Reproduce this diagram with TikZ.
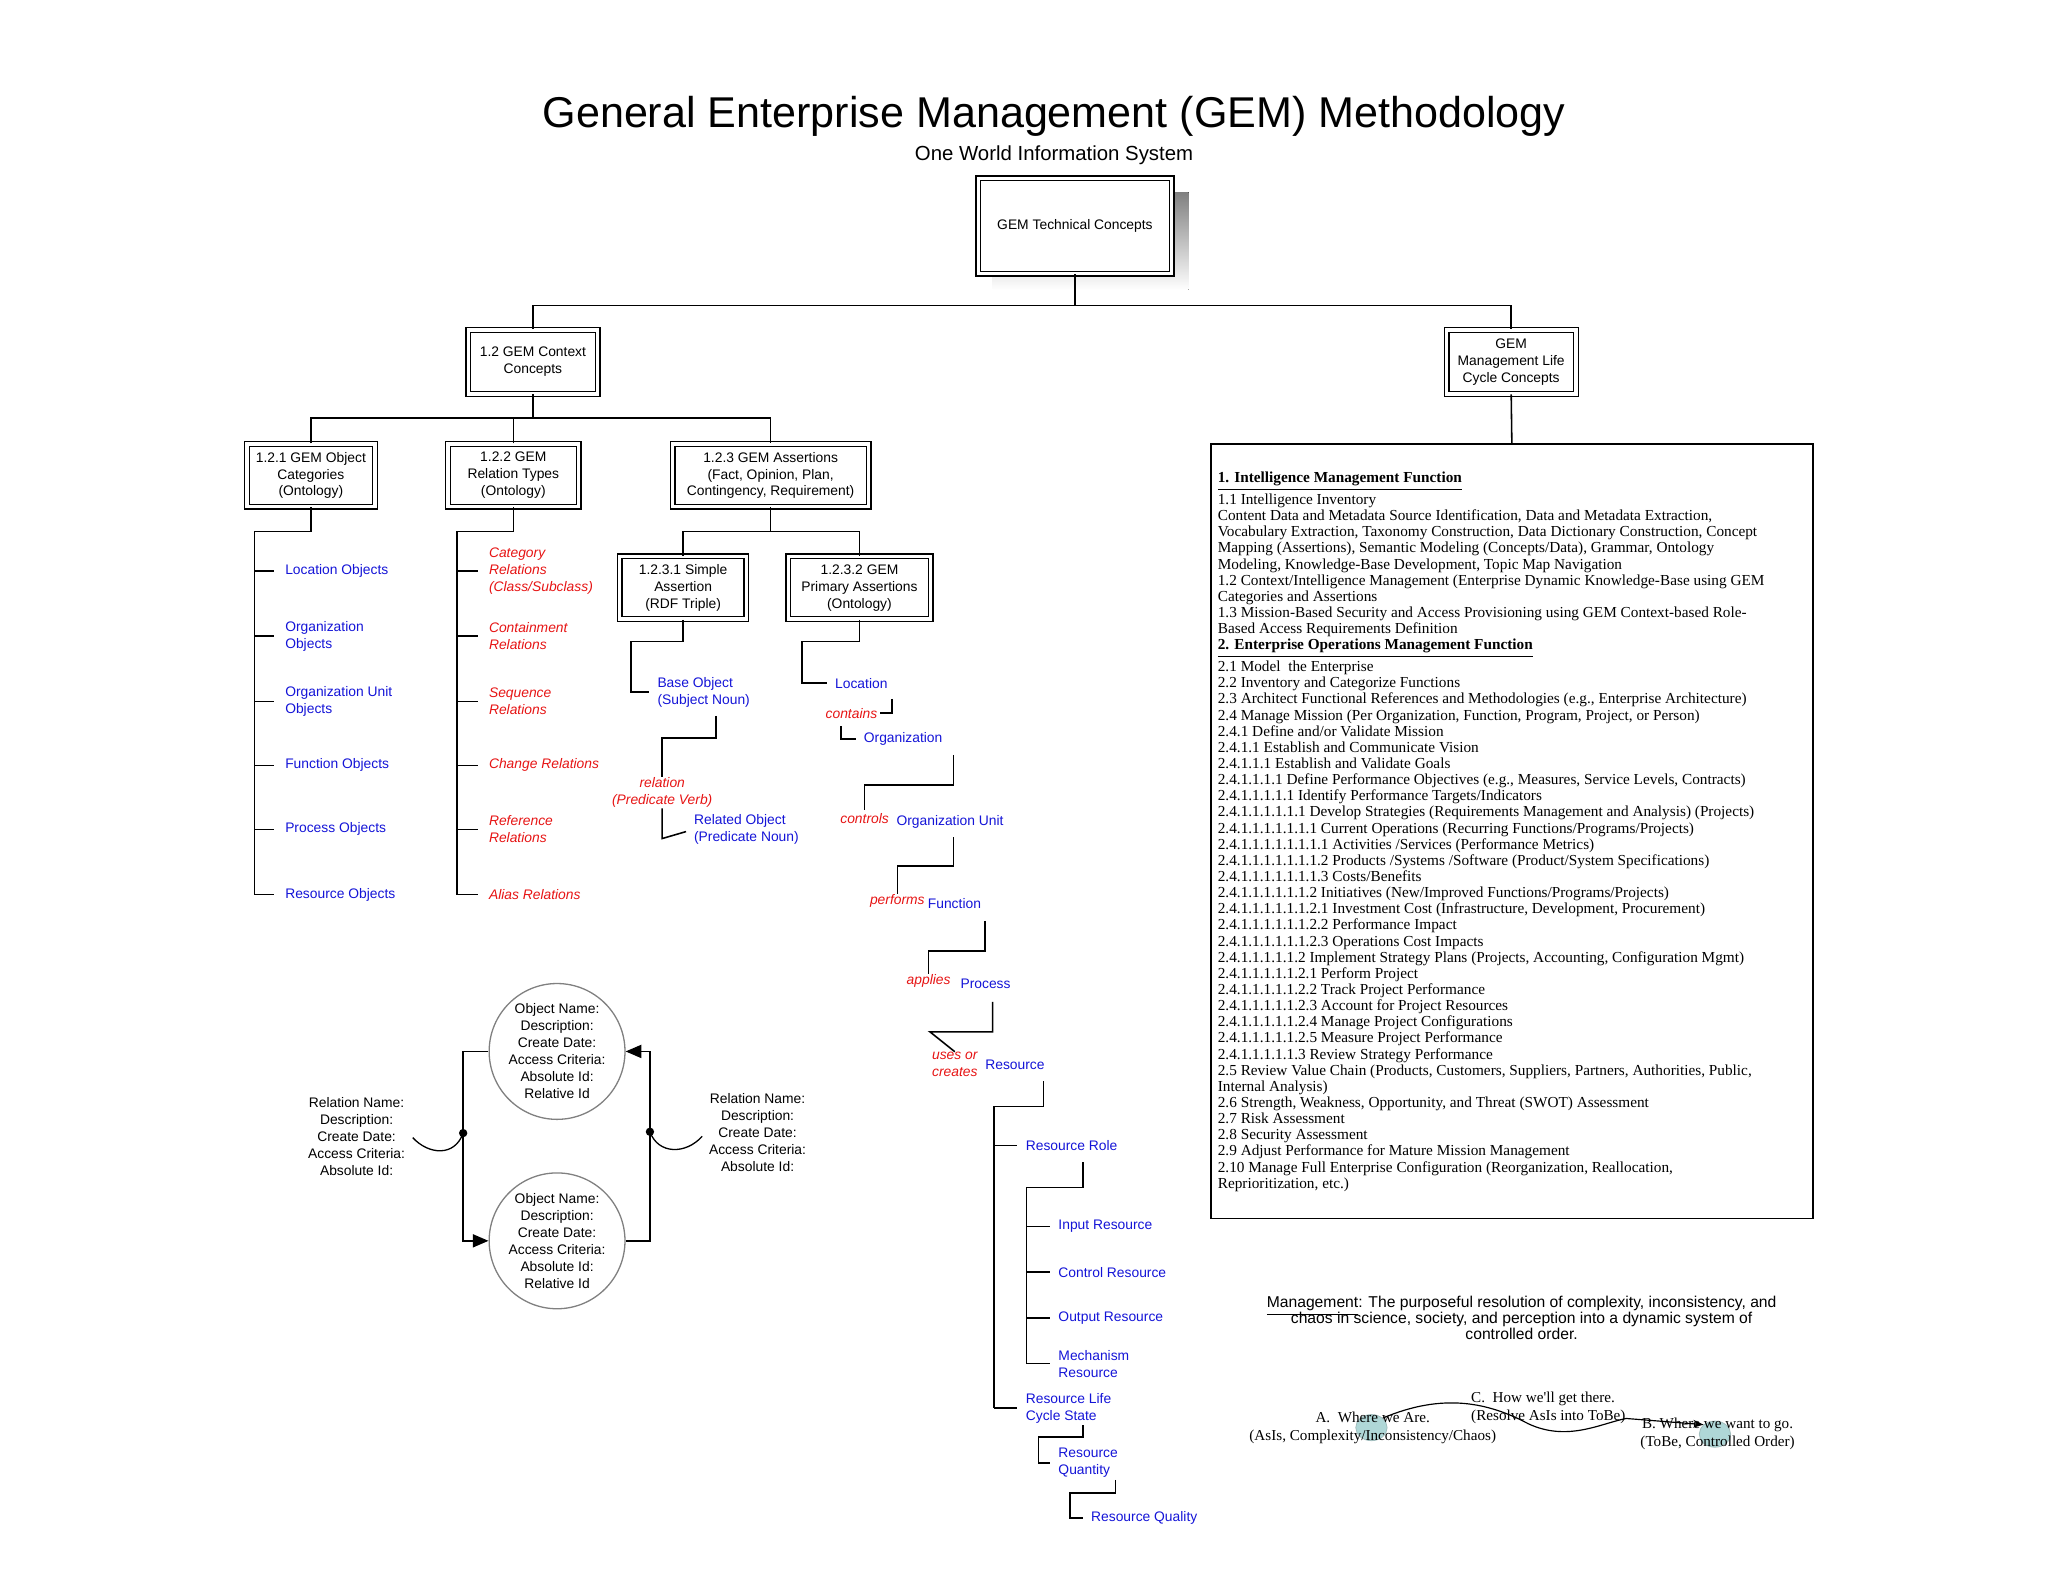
\documentclass[tikz,border=0pt]{standalone}
\usepackage{fontspec}
\setmainfont{Liberation Sans}
\newfontfamily\serifface{Liberation Serif}
\usetikzlibrary{arrows.meta,shapes.geometric}
\definecolor{lblue}{RGB}{20,20,215}
\definecolor{lred}{RGB}{230,20,20}
\definecolor{shade}{RGB}{205,205,205}
\definecolor{lteal}{RGB}{175,215,215}
\newcommand\tfs{\fontsize{5.3}{6.5}\selectfont}
\tikzset{
  gbox/.style={draw,double,double distance=1.3pt,line width=0.5pt,fill=white,align=center,inner sep=0pt,font=\tfs},
  bl/.style={text=lblue,align=left,anchor=west,inner sep=0pt,font=\tfs},
  rd/.style={text=lred,align=left,anchor=west,inner sep=0pt,font=\tfs\itshape},
  wire/.style={line width=0.6pt},
  gap/.style={shorten >=3pt},
  obj/.style={circle,draw=gray,line width=0.5pt,minimum size=52pt,inner sep=0pt,align=center,font=\tfs},
  rel/.style={align=center,inner sep=0pt,font=\tfs},
  blob/.style={ellipse,fill=lteal,draw=lteal!70!gray,line width=0.3pt,minimum width=12pt,minimum height=10pt,inner sep=0pt},
}
\begin{document}
\begin{tikzpicture}[x=0.5pt,y=-0.5pt]
\useasboundingbox (0,0) rectangle (1568,1211);
\node[font=\fontsize{16.5}{18}\selectfont] (title) at (807,89) {General Enterprise Management (GEM) Methodology};
\node[font=\fontsize{7.8}{9}\selectfont] (sub) at (807,118.5) {One World Information System};
% top box with shadow
\fill[shade] (760,147) rectangle (910,222);
\node[gbox,minimum width=74pt,minimum height=36.5pt] (tech) at (823,173) {GEM Technical Concepts};
\node[gbox,minimum width=49.5pt,minimum height=24.5pt] (ctx) at (408,277) {1.2 GEM Context\\Concepts};
\node[gbox,minimum width=49.5pt,minimum height=24.5pt] (mlc) at (1157,277) {GEM\\Management Life\\Cycle Concepts};
\coordinate (t1) at (823,234);
\draw[wire] (tech.south) -- (t1);
\draw[wire] (ctx.north) |- (t1) -| (mlc.north);
% big text box
\node[draw,line width=0.6pt,minimum width=230.5pt,minimum height=296.5pt,inner sep=0pt] (bigbox) at (1157.5,636.5) {};
\draw[wire] (mlc.south) -- (bigbox.north);
\node[anchor=north west,inner sep=0pt,align=left,font=\serifface\fontsize{5.85}{6.18}\selectfont] (bigtext) at (932,361) {%
\underline{\textbf{1. Intelligence Management Function}}\\
1.1 Intelligence Inventory\\
Content Data and Metadata Source Identification, Data and Metadata Extraction,\\
Vocabulary Extraction, Taxonomy Construction, Data Dictionary Construction, Concept\\
Mapping (Assertions), Semantic Modeling (Concepts/Data), Grammar, Ontology\\
Modeling, Knowledge-Base Development, Topic Map Navigation\\
1.2 Context/Intelligence Management (Enterprise Dynamic Knowledge-Base using GEM\\
Categories and Assertions\\
1.3 Mission-Based Security and Access Provisioning using GEM Context-based Role-\\
Based Access Requirements Definition\\
\underline{\textbf{2. Enterprise Operations Management Function}}\\
2.1 Model\ \ the Enterprise\\
2.2 Inventory and Categorize Functions\\
2.3 Architect Functional References and Methodologies (e.g., Enterprise Architecture)\\
2.4 Manage Mission (Per Organization, Function, Program, Project, or Person)\\
2.4.1 Define and/or Validate Mission\\
2.4.1.1 Establish and Communicate Vision\\
2.4.1.1.1 Establish and Validate Goals\\
2.4.1.1.1.1 Define Performance Objectives (e.g., Measures, Service Levels, Contracts)\\
2.4.1.1.1.1.1 Identify Performance Targets/Indicators\\
2.4.1.1.1.1.1.1 Develop Strategies (Requirements Management and Analysis) (Projects)\\
2.4.1.1.1.1.1.1.1 Current Operations (Recurring Functions/Programs/Projects)\\
2.4.1.1.1.1.1.1.1.1 Activities /Services (Performance Metrics)\\
2.4.1.1.1.1.1.1.1.2 Products /Systems /Software (Product/System Specifications)\\
2.4.1.1.1.1.1.1.1.3 Costs/Benefits\\
2.4.1.1.1.1.1.1.2 Initiatives (New/Improved Functions/Programs/Projects)\\
2.4.1.1.1.1.1.1.2.1 Investment Cost (Infrastructure, Development, Procurement)\\
2.4.1.1.1.1.1.1.2.2 Performance Impact\\
2.4.1.1.1.1.1.1.2.3 Operations Cost Impacts\\
2.4.1.1.1.1.1.2 Implement Strategy Plans (Projects, Accounting, Configuration Mgmt)\\
2.4.1.1.1.1.1.2.1 Perform Project\\
2.4.1.1.1.1.1.2.2 Track Project Performance\\
2.4.1.1.1.1.1.2.3 Account for Project Resources\\
2.4.1.1.1.1.1.2.4 Manage Project Configurations\\
2.4.1.1.1.1.1.2.5 Measure Project Performance\\
2.4.1.1.1.1.1.3 Review Strategy Performance\\
2.5 Review Value Chain (Products, Customers, Suppliers, Partners, Authorities, Public,\\
Internal Analysis)\\
2.6 Strength, Weakness, Opportunity, and Threat (SWOT) Assessment\\
2.7 Risk Assessment\\
2.8 Security Assessment\\
2.9 Adjust Performance for Mature Mission Management\\
2.10 Manage Full Enterprise Configuration (Reorganization, Reallocation,\\
Reprioritization, etc.)};
% second level
\node[gbox,minimum width=49pt,minimum height=24pt] (b121) at (238,364) {1.2.1 GEM Object\\Categories\\(Ontology)};
\node[gbox,minimum width=50pt,minimum height=24pt] (b122) at (393,364) {1.2.2 GEM\\Relation Types\\(Ontology)};
\node[gbox,minimum width=75pt,minimum height=24pt] (b123) at (590,364) {1.2.3 GEM Assertions\\(Fact, Opinion, Plan,\\Contingency, Requirement)};
\coordinate (t2) at (408,320);
\draw[wire] (ctx.south) -- (t2);
\draw[wire] (b121.north) |- (t2) -| (b123.north);
\draw[wire] (b122.north) -- (393,320);
% 1.2.1 column
\draw[wire] (b121.south) -- (238,407) -- (195,407) -- (195,685);
\foreach \y/\n/\t in {437/o1/{Location Objects},487/o2/{Organization\\Objects},537/o3/{Organization Unit\\Objects},586/o4/{Function Objects},635/o5/{Process Objects},685/o6/{Resource Objects}}{
  \node[bl] (\n) at (218,\y) {\t};
  \draw[wire] (195,\y) -- (210,\y);
}
% 1.2.2 column
\draw[wire] (b122.south) -- (393,407) -- (350,407) -- (350,685);
\foreach \y/\n/\t in {437/r1/{Category\\Relations\\(Class/Subclass)},487/r2/{Containment\\Relations},537/r3/{Sequence\\Relations},586/r4/{Change Relations},635/r5/{Reference\\Relations},685/r6/{Alias Relations}}{
  \node[rd] (\n) at (374,\y) {\t};
  \draw[wire] (350,\y) -- (366,\y);
}
% 1.2.3 sub boxes
\node[gbox,minimum width=48.5pt,minimum height=24pt] (b1231) at (523,450) {1.2.3.1 Simple\\Assertion\\(RDF Triple)};
\node[gbox,minimum width=54.5pt,minimum height=24pt] (b1232) at (658,450) {1.2.3.2 GEM\\Primary Assertions\\(Ontology)};
\coordinate (t3) at (590,407);
\draw[wire] (b123.south) -- (t3);
\draw[wire] (b1231.north) |- (t3) -| (b1232.north);
% simple assertion chain
\node[bl] (base) at (503,530) {Base Object\\(Subject Noun)};
\draw[wire,gap] (b1231.south) -- (523,491) -- (483,491) -- (483,530) -- (base.west);
\node[rd,anchor=center,align=center] (relv) at (507,607) {relation\\(Predicate Verb)};
\draw[wire] (548,548) -- (548,565) -- (507,565) -- (relv.north);
\node[bl] (relo) at (531,635) {Related Object\\(Predicate Noun)};
\draw[wire,gap] (relv.south) -- (507,642) -- (relo.west);
% primary assertions chain
\node[bl] (loc) at (639,523) {Location};
\draw[wire,gap] (b1232.south) -- (658,491) -- (614,491) -- (614,523) -- (loc.west);
\node[rd,anchor=east] (cont) at (672,546) {contains};
\draw[wire,shorten >=1pt] (683,535) -- (683,546) -- (cont.east);
\node[bl] (org) at (661,566) {Organization};
\draw[wire,gap] (644,556) -- (644,566) -- (org.west);
\node[rd] (ctrl) at (643,627) {controls};
\draw[wire] (730,578) -- (730,601) -- (662,601) -- (662,620);
\node[bl] (ou) at (686,629) {Organization Unit};
\node[rd,anchor=center] (perf) at (687,690) {performs};
\draw[wire] (730,641) -- (730,663) -- (687,663) -- (perf.north);
\node[bl] (func) at (710,692) {Function};
\node[rd,anchor=center] (appl) at (711,751) {applies};
\draw[wire] (754,705) -- (754,728) -- (711,728) -- (appl.north);
\node[bl] (proc) at (735,753) {Process};
\node[rd,anchor=center,align=center] (uses) at (731,815) {uses or\\creates};
\draw[wire] (760,767) -- (760,790) -- (712,790) -- (uses.north);
\node[bl] (res) at (754,815) {Resource};
% resource chain
\draw[wire] (799,828) -- (799,847) -- (761,847) -- (761,1078);
\node[bl] (rrole) at (785,877) {Resource Role};
\draw[wire,gap] (761,877) -- (rrole.west);
\node[bl] (rlcs) at (785,1078) {Resource Life\\Cycle State};
\draw[wire,gap] (761,1078) -- (rlcs.west);
\draw[wire] (829,890) -- (829,909) -- (786,909) -- (786,1044);
\foreach \y/\n/\t in {939/in1/{Input Resource},974/in2/{Control Resource},1009/in3/{Output Resource},1044/in4/{Mechanism\\Resource}}{
  \node[bl] (\n) at (810,\y) {\t};
  \draw[wire,gap] (786,\y) -- (\n.west);
}
\node[bl] (rq) at (810,1120) {Resource\\Quantity};
\draw[wire,gap] (829,1091) -- (829,1100) -- (795,1100) -- (795,1120) -- (rq.west);
\node[bl] (rql) at (835,1162) {Resource Quality};
\draw[wire,gap] (854,1133) -- (854,1143) -- (819,1143) -- (819,1162) -- (rql.west);
% object circles
\node[obj] (c1) at (426.5,805) {Object Name:\\Description:\\Create Date:\\Access Criteria:\\Absolute Id:\\Relative Id};
\node[obj] (c2) at (426.5,950) {Object Name:\\Description:\\Create Date:\\Access Criteria:\\Absolute Id:\\Relative Id};
\coordinate (dl) at (354.6,867.5);
\coordinate (dr) at (497.6,866.5);
\draw[wire,-{Triangle[length=6pt,width=5pt]}] (c1.west) -- (354.6,805) -- (354.6,950) -- (c2.west);
\draw[wire,-{Triangle[length=6pt,width=5pt]}] (c2.east) -- (497.6,950) -- (497.6,805) -- (c1.east);
\fill (dl) circle (1.6pt);
\fill (dr) circle (1.6pt);
\node[rel] (rl) at (273,870) {Relation Name:\\Description:\\Create Date:\\Access Criteria:\\Absolute Id:};
\node[rel] (rr) at (580,867) {Relation Name:\\Description:\\Create Date:\\Access Criteria:\\Absolute Id:};
\draw[line width=0.5pt] (316,871) .. controls (328,884) and (348,886) .. (dl);
\draw[line width=0.5pt] (dr) .. controls (504,884) and (525,884) .. (537.6,870);
% management definition
\node[align=center,inner sep=0pt,font=\fontsize{6.0}{6.25}\selectfont] (mgmt) at (1165,1009) {\smash{\underline{Management}}: The purposeful resolution of complexity, inconsistency, and\\chaos in science, society, and perception into a dynamic system of\\controlled order.};
% A B C
\node[blob] (ea) at (1050,1093) {};
\node[blob] (eb) at (1313,1098) {};
\node[align=center,inner sep=0pt,font=\serifface\fontsize{5.8}{7}\selectfont] (ta) at (1051,1093) {A.\ \ Where we Are.\\(AsIs, Complexity/Inconsistency/Chaos)};
\node[align=left,anchor=west,inner sep=0pt,font=\serifface\fontsize{5.8}{7}\selectfont] (tc) at (1126,1078) {C.\ \ How we'll get there.\\(Resolve AsIs into ToBe)};
\node[align=center,inner sep=0pt,font=\serifface\fontsize{5.8}{7}\selectfont] (tb) at (1315,1098) {B. Where we want to go.\\(ToBe, Controlled Order)};
\draw[line width=0.45pt,-{Stealth[length=4pt,width=3pt]}] (ea.north east) .. controls (1105,1066) and (1140,1074) .. (1170,1090) .. controls (1200,1104) and (1225,1090) .. (1245,1086) -- (eb.north west);
\end{tikzpicture}
\end{document}
